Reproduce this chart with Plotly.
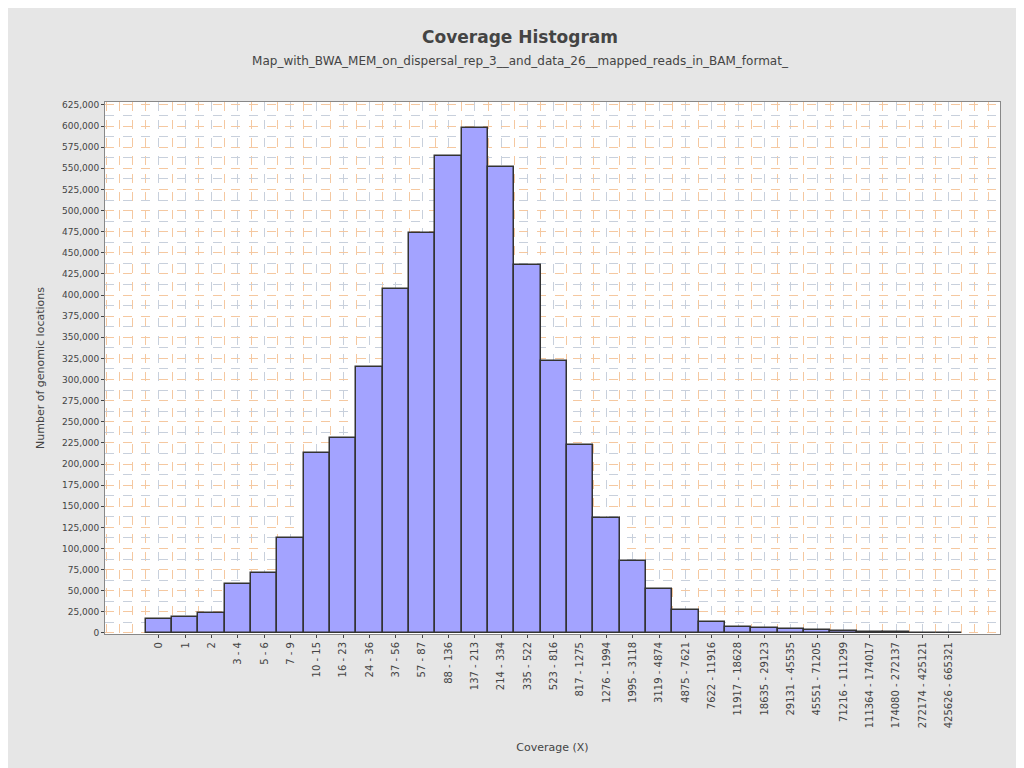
import plotly.graph_objects as go

categories = ["0","1","2","3 - 4","5 - 6","7 - 9","10 - 15","16 - 23","24 - 36","37 - 56","57 - 87",
              "88 - 136","137 - 213","214 - 334","335 - 522","523 - 816","817 - 1275","1276 - 1994",
              "1995 - 3118","3119 - 4874","4875 - 7621","7622 - 11916","11917 - 18628","18635 - 29123",
              "29131 - 45535","45551 - 71205","71216 - 111299","111364 - 174017","174080 - 272137",
              "272174 - 425121","425626 - 665321"]
counts = [17000,18500,23500,58000,70500,113000,213000,231000,315000,407000,473000,
          564000,598000,552000,435000,322000,223000,136000,85000,52000,27000,
          13000,7000,5500,4500,3000,2000,1000,800,500,200]
ytick_vals = list(range(0, 625001, 25000))
ytick_text = [f"{v:,}" for v in ytick_vals]

xs = list(range(len(categories)))
fig = go.Figure(go.Bar(x=xs, y=counts, width=1.0,
                       marker=dict(color="#a3a3ff", line=dict(color="#333333", width=1.5))))
fig.update_layout(
    width=1024, height=768, paper_bgcolor="#e6e6e6", plot_bgcolor="white",
    margin=dict(l=97, r=32, t=94, b=142), showlegend=False,
    font=dict(family="DejaVu Sans", size=10, color="#444444"),
    title=dict(text="<b>Coverage Histogram</b><br><span style='font-size:12px'>Map_with_BWA_MEM_on_dispersal_rep_3__and_data_26__mapped_reads_in_BAM_format_</span>",
               x=0.5, xanchor="center", y=0.955, yanchor="top", font=dict(size=17, color="#444444")),
    bargap=0,
)
fig.update_xaxes(range=[-2.05, 31.95], tickvals=xs, ticktext=categories, tickangle=-90,
                 showgrid=True, gridcolor="#c8d0dc", griddash="dash", gridwidth=1,
                 minor=dict(dtick=0.5, showgrid=True, gridcolor="#f5c8a0", griddash="dash", tick0=0.5),
                 showline=True, linecolor="#888888", mirror=True, ticks="outside", ticklen=3,
                 title=dict(text="Coverage (X)", font=dict(size=11)), zeroline=False)
fig.update_yaxes(range=[-1200, 628500], tickvals=ytick_vals, ticktext=ytick_text,
                 showgrid=True, gridcolor="#f5c8a0", griddash="dash", gridwidth=1,
                 minor=dict(dtick=12500, showgrid=True, gridcolor="#c8d0dc", griddash="dash"),
                 showline=True, linecolor="#888888", mirror=True, ticks="outside", ticklen=3,
                 title=dict(text="Number of genomic locations", font=dict(size=11)), zeroline=False,
                 tickfont=dict(size=9))
fig.write_html("out.html")
